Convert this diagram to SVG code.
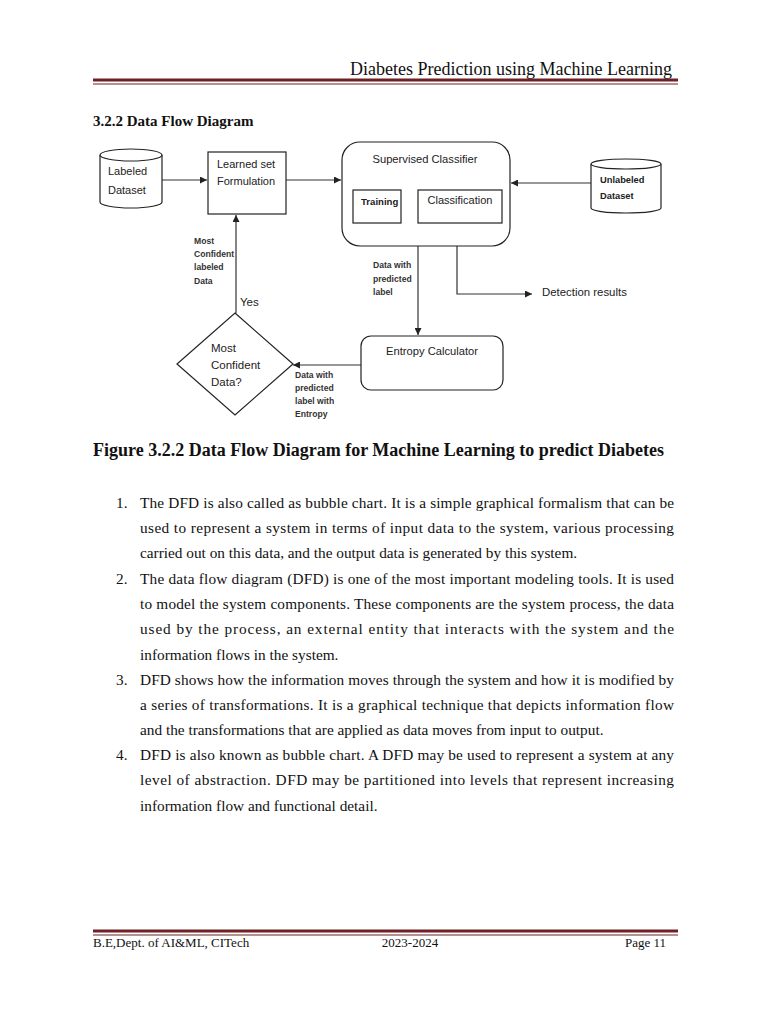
<svg xmlns="http://www.w3.org/2000/svg" width="768" height="1024" viewBox="0 0 768 1024">
<defs>
<marker id="ah" viewBox="0 0 10 10" refX="10" refY="5" markerWidth="7" markerHeight="7" markerUnits="userSpaceOnUse" orient="auto">
<path d="M0,0 L10,5 L0,10 z" fill="#222"/>
</marker>
<style>
.doc{font-family:"Liberation Serif","Times New Roman",serif;fill:#111}
.dg{font-family:"Liberation Sans",Arial,sans-serif;fill:#222}
.sm{font-family:"Liberation Sans",Arial,sans-serif;fill:#333;font-size:8.6px;font-weight:bold}
.shape{fill:#fff;stroke:#222;stroke-width:1.2}
.conn{fill:none;stroke:#333;stroke-width:1.2}
.body{font-size:15.3px}
</style>
</defs>
<rect width="768" height="1024" fill="#fff"/>

<!-- header -->
<text class="doc" x="672" y="75" font-size="18" text-anchor="end">Diabetes Prediction using Machine Learning</text>
<line x1="93" y1="80" x2="678" y2="80" stroke="#6e2024" stroke-width="3"/>
<line x1="93" y1="84" x2="678" y2="84" stroke="#6e2024" stroke-width="1"/>

<text class="doc" x="93" y="126" font-size="15" font-weight="bold">3.2.2 Data Flow Diagram</text>

<!-- connectors -->
<g id="connectors">
<line class="conn" x1="162" y1="180" x2="207" y2="180" marker-end="url(#ah)"/>
<line class="conn" x1="286" y1="180" x2="341" y2="180" marker-end="url(#ah)"/>
<line class="conn" x1="591" y1="183" x2="511" y2="183" marker-end="url(#ah)"/>
<line class="conn" x1="418" y1="246" x2="418" y2="335" marker-end="url(#ah)"/>
<polyline class="conn" points="457,246 457,294 532,294" marker-end="url(#ah)"/>
<line class="conn" x1="361" y1="365" x2="293" y2="365" marker-end="url(#ah)"/>
<line class="conn" x1="236" y1="313" x2="236" y2="215" marker-end="url(#ah)"/>
<text class="sm" x="373" y="268">Data with</text>
<text class="sm" x="373" y="282">predicted</text>
<text class="sm" x="373" y="295">label</text>
<text class="dg" x="542" y="296" font-size="11.4">Detection results</text>
<text class="sm" x="295" y="378">Data with</text>
<text class="sm" x="295" y="391">predicted</text>
<text class="sm" x="295" y="404">label with</text>
<text class="sm" x="295" y="417">Entropy</text>
<text class="sm" x="194" y="244">Most</text>
<text class="sm" x="194" y="257">Confident</text>
<text class="sm" x="194" y="270">labeled</text>
<text class="sm" x="194" y="284">Data</text>
<text class="dg" x="240" y="306" font-size="11.5">Yes</text>
</g>

<g id="labeled-dataset">
<path class="shape" d="M100,155 L100,202 A31,6 0 0 0 162,202 L162,155"/>
<ellipse class="shape" cx="131" cy="155" rx="31" ry="6"/>
<text class="dg" x="108" y="175" font-size="11">Labeled</text>
<text class="dg" x="108" y="194" font-size="11">Dataset</text>
</g>

<g id="learned-set">
<rect class="shape" x="208" y="152" width="78" height="62"/>
<text class="dg" x="217" y="168" font-size="11">Learned set</text>
<text class="dg" x="217" y="185" font-size="11">Formulation</text>
</g>

<g id="supervised-classifier">
<rect class="shape" x="342" y="142" width="168" height="104" rx="18"/>
<text class="dg" x="425" y="163" font-size="11.2" text-anchor="middle">Supervised Classifier</text>
<rect class="shape" x="353" y="190" width="48" height="33"/>
<text class="dg" x="361" y="205" font-size="9.6" font-weight="bold" fill="#333">Training</text>
<rect class="shape" x="418" y="190" width="84" height="33"/>
<text class="dg" x="460" y="204" font-size="11" text-anchor="middle">Classification</text>
</g>

<g id="unlabeled-dataset">
<path class="shape" d="M591,164 L591,208 A35,5 0 0 0 661,208 L661,164"/>
<ellipse class="shape" cx="626" cy="164" rx="35" ry="5"/>
<text class="dg" x="600" y="183" font-size="9.3" font-weight="bold" fill="#333">Unlabeled</text>
<text class="dg" x="600" y="199" font-size="9.3" font-weight="bold" fill="#333">Dataset</text>
</g>

<g id="entropy-calculator">
<rect class="shape" x="361" y="336" width="142" height="54" rx="10"/>
<text class="dg" x="432" y="355" font-size="11.2" text-anchor="middle">Entropy Calculator</text>
</g>

<g id="decision">
<polygon class="shape" points="235,313 293,364 235,415 177,364"/>
<text class="dg" x="211" y="352" font-size="11.5">Most</text>
<text class="dg" x="211" y="369" font-size="11.5">Confident</text>
<text class="dg" x="211" y="386" font-size="11.5">Data?</text>
</g>

<text class="doc" x="93" y="456" font-size="18" font-weight="bold">Figure 3.2.2 Data Flow Diagram for Machine Learning to predict Diabetes</text>

<!-- body text -->
<g class="doc body">
<text x="116" y="508">1.</text>
<text x="140" y="508" textLength="534" lengthAdjust="spacing">The DFD is also called as bubble chart. It is a simple graphical formalism that can be</text>
<text x="140" y="533" textLength="534" lengthAdjust="spacing">used to represent a system in terms of input data to the system, various processing</text>
<text x="140" y="558">carried out on this data, and the output data is generated by this system.</text>
<text x="116" y="584">2.</text>
<text x="140" y="584" textLength="534" lengthAdjust="spacing">The data flow diagram (DFD) is one of the most important modeling tools. It is used</text>
<text x="140" y="609" textLength="534" lengthAdjust="spacing">to model the system components. These components are the system process, the data</text>
<text x="140" y="634" textLength="534" lengthAdjust="spacing">used by the process, an external entity that interacts with the system and the</text>
<text x="140" y="660">information flows in the system.</text>
<text x="116" y="685">3.</text>
<text x="140" y="685" textLength="534" lengthAdjust="spacing">DFD shows how the information moves through the system and how it is modified by</text>
<text x="140" y="710" textLength="534" lengthAdjust="spacing">a series of transformations. It is a graphical technique that depicts information flow</text>
<text x="140" y="735">and the transformations that are applied as data moves from input to output.</text>
<text x="116" y="760">4.</text>
<text x="140" y="760" textLength="534" lengthAdjust="spacing">DFD is also known as bubble chart. A DFD may be used to represent a system at any</text>
<text x="140" y="785" textLength="534" lengthAdjust="spacing">level of abstraction. DFD may be partitioned into levels that represent increasing</text>
<text x="140" y="811">information flow and functional detail.</text>
</g>

<!-- footer -->
<line x1="93" y1="931" x2="678" y2="931" stroke="#6e2024" stroke-width="3"/>
<line x1="93" y1="935" x2="678" y2="935" stroke="#6e2024" stroke-width="1"/>
<text class="doc" x="93" y="947" font-size="13">B.E,Dept. of AI&amp;ML, CITech</text>
<text class="doc" x="410" y="947" font-size="13" text-anchor="middle">2023-2024</text>
<text class="doc" x="666" y="947" font-size="13" text-anchor="end">Page 11</text>
</svg>
